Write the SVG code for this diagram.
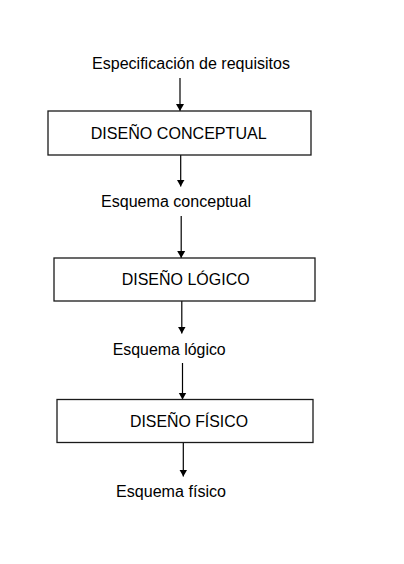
<svg xmlns="http://www.w3.org/2000/svg" width="404" height="564" viewBox="0 0 404 564">
<style>
.box{fill:#fff;stroke:#1a1a1a;stroke-width:1.3}
.t{font-family:"Liberation Sans",Arial,sans-serif;font-size:17.3px;fill:#000;text-anchor:start}
.c{stroke:#000;stroke-width:1.2;fill:none;marker-end:url(#ah)}
</style>
<defs>
<marker id="ah" markerUnits="userSpaceOnUse" markerWidth="10" markerHeight="10" viewBox="0 0 10 10" refX="7" refY="5" orient="auto">
<path d="M0,1 L7,5 L0,9 Z" fill="#000"/>
</marker>
</defs>
<rect width="404" height="564" fill="#fff"/>
<g id="connectors">
<line class="c" x1="180" y1="78" x2="180" y2="111"/>
<line class="c" x1="180.7" y1="155" x2="180.7" y2="186.5"/>
<line class="c" x1="181.2" y1="216" x2="181.2" y2="258"/>
<line class="c" x1="181.8" y1="301" x2="181.8" y2="333.5"/>
<line class="c" x1="182.5" y1="363" x2="182.5" y2="399.5"/>
<line class="c" x1="183.3" y1="442.5" x2="183.3" y2="476.5"/>
</g>
<g id="spec">
<text class="t" x="92" y="68.5" textLength="198" lengthAdjust="spacingAndGlyphs">Especificación de requisitos</text>
</g>
<g id="disenoConceptual">
<rect class="box" x="48" y="111" width="263" height="44"/>
<text class="t" x="90.7" y="139" textLength="176" lengthAdjust="spacingAndGlyphs">DISEÑO CONCEPTUAL</text>
</g>
<g id="esquemaConceptual">
<text class="t" x="101" y="206.5" textLength="150" lengthAdjust="spacingAndGlyphs">Esquema conceptual</text>
</g>
<g id="disenoLogico">
<rect class="box" x="54" y="258" width="261" height="43"/>
<text class="t" x="121.7" y="285" textLength="128" lengthAdjust="spacingAndGlyphs">DISEÑO LÓGICO</text>
</g>
<g id="esquemaLogico">
<text class="t" x="112.7" y="355" textLength="113" lengthAdjust="spacingAndGlyphs">Esquema lógico</text>
</g>
<g id="disenoFisico">
<rect class="box" x="57" y="399.5" width="256" height="43"/>
<text class="t" x="130" y="427" textLength="118" lengthAdjust="spacingAndGlyphs">DISEÑO FÍSICO</text>
</g>
<g id="esquemaFisico">
<text class="t" x="116" y="497" textLength="110" lengthAdjust="spacingAndGlyphs">Esquema físico</text>
</g>
</svg>
